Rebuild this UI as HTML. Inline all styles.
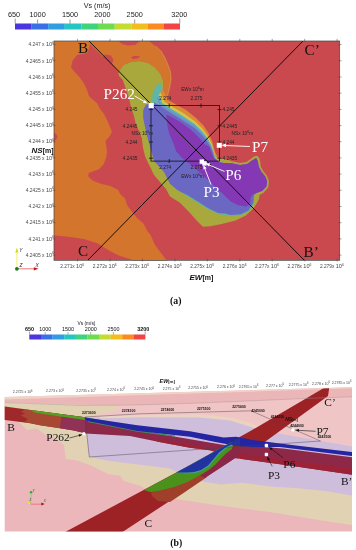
<!DOCTYPE html>
<html>
<head>
<meta charset="utf-8">
<title>Vs model figure</title>
<style>
html,body{margin:0;padding:0;background:#fff;}
body{width:356px;height:550px;overflow:hidden;position:relative;font-family:"Liberation Sans",sans-serif;}
svg{position:absolute;left:0;top:0;display:block;}
.t{font-family:"Liberation Sans",sans-serif;}
.s{font-family:"Liberation Serif",serif;}
</style>
</head>
<body>
<svg width="356" height="550" viewBox="0 0 356 550">
<defs>
<clipPath id="cpa"><rect x="54" y="41" width="285.700" height="219.400"/></clipPath>
<filter id="bl" x="-5%" y="-5%" width="110%" height="110%"><feGaussianBlur stdDeviation="0.6"/></filter>
</defs>

<!-- ============ colour bar (a) ============ -->
<g id="cbar-a">
<rect x="15" y="23.5" width="16.6" height="6" fill="#4a35e0"/>
<rect x="31.5" y="23.5" width="16.8" height="6" fill="#3a6fe8"/>
<rect x="48.2" y="23.5" width="16.6" height="6" fill="#2f9de2"/>
<rect x="64.7" y="23.5" width="16.8" height="6" fill="#24c6c2"/>
<rect x="81.4" y="23.5" width="16.7" height="6" fill="#3fd37e"/>
<rect x="98" y="23.5" width="16.8" height="6" fill="#6fdc50"/>
<rect x="114.7" y="23.5" width="17" height="6" fill="#c4dc30"/>
<rect x="131.6" y="23.5" width="16.2" height="6" fill="#f2be1c"/>
<rect x="147.7" y="23.5" width="16.4" height="6" fill="#fb8b20"/>
<rect x="164" y="23.5" width="16" height="6" fill="#f24444"/>
<g stroke="#555" stroke-width="0.6">
<line x1="15.2" y1="18.5" x2="15.2" y2="23.5"/>
<line x1="37.6" y1="19.5" x2="37.6" y2="23.5"/>
<line x1="70" y1="19.5" x2="70" y2="23.5"/>
<line x1="102.4" y1="19.5" x2="102.4" y2="23.5"/>
<line x1="134.7" y1="19.5" x2="134.7" y2="23.5"/>
<line x1="179.8" y1="18.5" x2="179.8" y2="23.5"/>
</g>
<g class="t" font-size="7.3" text-anchor="middle" fill="#1c1c1c">
<text x="14" y="16.6">650</text>
<text x="37.6" y="16.6">1000</text>
<text x="70" y="16.6">1500</text>
<text x="102.4" y="16.6">2000</text>
<text x="134.7" y="16.6">2500</text>
<text x="179.3" y="16.6">3200</text>
<text x="97" y="8.2" font-size="7.2">Vs (m/s)</text>
</g>
</g>

<!-- ============ panel (a) map ============ -->
<g id="map-a" clip-path="url(#cpa)">
<rect x="54" y="40" width="286" height="220" fill="#ca494f"/>
<g filter="url(#bl)">
<!-- orange: left region + top band + lobe -->
<path fill="#d4742f" d="M50,36 L118,36 L118.500,41 L122,44 L128,45.500 L135,45 L139,42 L140,36 L148,36 L149,41 L155,46 L160.500,51.700 L164,58.500 L167,65 L169.500,72 L170,78.700 L168.400,87.700 L166.500,96 L166,101 L162.500,99 L161.700,92 L163,87.700 L163,81 L160.500,74 L155,67.500 L148,63 L139,61 L130,62.300 L123.500,65 L120,70 L118,72 L112,64 L113.500,60 L111,55.500 L105,54.500 L103,57 L98,52 L93,47 L90,44 L89,49 L87,53 L82,54 L77,55 L72.500,60.700 L71,67.500 L74.700,72 L79,76.500 L83.700,83 L87,90 L89,96 L92,99 L97,103 L100,109 L104,114 L107,120 L110,127 L112,132 L109,137 L105.500,141 L106.500,147 L107,152 L106,158 L103.700,164 L99,169.300 L92.500,171.600 L89,172.700 L88,176 L92.500,180.500 L101.500,184 L110.400,186 L118.300,190 L120,194 L125,198.400 L127,205 L132,212 L137,218 L143.700,223.700 L147,230.500 L150.500,235 L155,245 L161,253 L167,261 L133,261 L131.500,259.500 L120,256 L109,250.500 L98,243.500 L84,239 L67,236.500 L50,235 Z"/>
<path fill="#ca494f" d="M53,132.500 Q57.500,134 57.300,137 Q57,140 53,141.500 Z"/>
<!-- small red blob inside orange lobe -->
<path fill="#ca494f" d="M131,57.500 Q135,54.500 140,56.500 Q138,59 133,59 Z"/>
<!-- light orange fringe outside lobe -->
<path fill="#d9843c" d="M156,46 L161.500,51 L165.500,58 L168.500,65 L171,72 L171.500,79 L170,88 L168,96 L167.500,102 L166,101 L166.500,96 L168.400,87.700 L170,78.700 L169.500,72 L167,65 L164,58.500 L160.500,51.700 L155,46 Z"/>
<!-- olive region (full outer boundary) -->
<path fill="#a9a83c" d="M120,70 L123.500,65 L130,62.300 L139,61 L148,63 L155,67.500 L160.500,74 L163,81 L163,87.700 L161.700,92 L160.500,96 L166,100 L180,108 L195,120 L208,134 L213,148 L218,158 L227,159.500 L232,161.200 L240.200,163 L246.500,162 L251,158.800 L254,156.500 L257,155.800 L259.300,158 L260.200,162 L260.700,166.500 L263,170.800 L267,175.700 L269,181.500 L268.200,187.500 L263.500,192.700 L259.500,195 L259,199 L257.200,202.500 L253.400,208.500 L245.800,215.600 L235.700,220.500 L220.500,224.300 L210,226.300 L203,226.800 L197.800,221.800 L190,213 L180,202.800 L170,196.500 L166,189 L154,175 L148.700,164 L145.300,157 L143,148 L142,139 L139.700,132 L136,125 L134,116 L131,107 L129,98 L126,89 L122.800,80 L119,76 L118.500,73 Z"/>
<!-- teal/cyan fringe (north tip) -->
<path fill="#5fb6a6" d="M151.500,102 L153,92 L156,86 L160,83 L163,89 L164,96 L166.500,103 L161,107 L154,104 Z"/>
<!-- fringe bands on NE side of blue -->
<path fill="#dc8a34" d="M162.5,89.0 L168.0,100.0 L176.0,104.5 L186.0,110.0 L196.0,118.0 L203.5,125.5 L208.5,133.0 L212.4,141.5 L214.3,149.5 L216.0,156.5 L220.0,160.8 L226.5,162.8 L226.0,164.0 L219.0,162.0 L214.5,158.0 L212.6,151.5 L210.0,146.0 L205.8,139.6 L201.0,134.0 L194.0,127.5 L180.6,119.0 L167.0,110.5 L159.0,104.5 L157.0,98.0 Z"/>
<path fill="#d4c44a" d="M160.4,92.4 L164.6,101.7 L172.6,106.8 L183.9,113.4 L195.2,121.6 L202.6,128.7 L207.5,135.5 L211.5,143.2 L213.7,150.3 L215.4,157.1 L219.6,161.3 L226.3,163.3 L226.0,164.0 L219.0,162.0 L214.5,158.0 L212.6,151.5 L210.0,146.0 L205.8,139.6 L201.0,134.0 L194.0,127.5 L180.6,119.0 L167.0,110.5 L159.0,104.5 L157.0,98.0 Z"/>
<path fill="#5eaebc" d="M159.0,94.8 L162.2,102.9 L170.2,108.3 L182.5,115.8 L194.7,124.1 L201.9,130.9 L206.8,137.2 L210.9,144.4 L213.2,150.8 L215.0,157.5 L219.4,161.6 L226.2,163.6 L226.0,164.0 L219.0,162.0 L214.5,158.0 L212.6,151.5 L210.0,146.0 L205.8,139.6 L201.0,134.0 L194.0,127.5 L180.6,119.0 L167.0,110.5 L159.0,104.5 L157.0,98.0 Z"/>
<path fill="#6d90d0" d="M158.0,96.4 L160.6,103.7 L168.6,109.4 L181.6,117.4 L194.4,125.8 L201.4,132.5 L206.3,138.4 L210.4,145.2 L212.9,151.1 L214.8,157.7 L219.2,161.8 L226.1,163.8 L226.0,164.0 L219.0,162.0 L214.5,158.0 L212.6,151.5 L210.0,146.0 L205.8,139.6 L201.0,134.0 L194.0,127.5 L180.6,119.0 L167.0,110.5 L159.0,104.5 L157.0,98.0 Z"/>
<!-- thin teal between blue and olive on the south side -->
<path fill="#62b49c" d="M254.400,203.300 L249.200,211.300 L241,215.300 L230.700,216.200 L218,214 L207.400,209 L197.300,202.600 L187.200,196.300 L177.600,190.200 L197.800,199 L230,212 L250,205 Z"/>
<!-- blue-violet region -->
<path fill="#6a67c2" d="M150.500,103.500 L154,102.500 L159,105 L167,110.500 L180.600,119 L194,127.500 L201,134 L205.800,139.600 L210,146 L212.600,151.500 L214.500,158 L219,162 L226,164 L231.700,163.200 L240.200,164.900 L247,164 L252,160.600 L256.200,158.100 L257.900,161.500 L258.700,166.500 L261.300,171.600 L265.500,176.700 L267.200,181.700 L266.300,186.800 L262,191 L257,192.700 L254,195 L253.400,202.800 L248.400,210.400 L240.800,214.200 L230.700,215 L225,213.500 L218,212.900 L207.900,207.900 L197.800,201.500 L187.700,195.200 L177.600,190.200 L170,183.800 L164,172 L154,161 L151,150 L147,136 L145,127 L143.200,118 L143.200,110 L146,104.500 Z"/>
<!-- purple region -->
<path fill="#8439b3" d="M166.500,114.500 L173.500,118 L182.500,123.500 L191.500,130.200 L199.500,138 L204.500,144 L209.500,147 L211.500,153 L214,158.300 L218.800,162.300 L225,163 L231.700,163.200 L240.200,164.900 L247,164 L252,160.600 L256.200,158.100 L257.900,161.500 L258.700,166.500 L261.300,171.600 L265.500,176.700 L267.200,181.700 L266.300,186.800 L262,191 L257,192.700 L252.800,194.400 L250.300,197.700 L250.300,202 L248.600,205.300 L245.800,206.600 L238.300,205.300 L230.700,201.500 L223,194 L213,185 L202.900,175 L198,171 L190,164 L182,158 L176,151 L173.700,144 L170,135.700 L168,129 L167,122 Z"/>
</g>

<!-- section lines -->
<g stroke="#0a0a0a" stroke-width="0.95" fill="none">
<line x1="88" y1="40" x2="304" y2="260"/>
<line x1="88" y1="260" x2="304" y2="40"/>
</g>
</g>

<!-- y axis tick labels -->
<g class="t" font-size="4.9" text-anchor="end" fill="#484848">
<text x="54" y="46.3">4.247 x <tspan font-size="5.6">10</tspan><tspan dy="-2.6" font-size="3.4">6</tspan></text>
<text x="54" y="62.5">4.2465 x <tspan font-size="5.6">10</tspan><tspan dy="-2.6" font-size="3.4">6</tspan></text>
<text x="54" y="78.7">4.246 x <tspan font-size="5.6">10</tspan><tspan dy="-2.6" font-size="3.4">6</tspan></text>
<text x="54" y="94.9">4.2455 x <tspan font-size="5.6">10</tspan><tspan dy="-2.6" font-size="3.4">6</tspan></text>
<text x="54" y="111.1">4.245 x <tspan font-size="5.6">10</tspan><tspan dy="-2.6" font-size="3.4">6</tspan></text>
<text x="54" y="127.3">4.2445 x <tspan font-size="5.6">10</tspan><tspan dy="-2.6" font-size="3.4">6</tspan></text>
<text x="54" y="143.4">4.244 x <tspan font-size="5.6">10</tspan><tspan dy="-2.6" font-size="3.4">6</tspan></text>
<text x="54" y="159.6">4.2435 x <tspan font-size="5.6">10</tspan><tspan dy="-2.6" font-size="3.4">6</tspan></text>
<text x="54" y="175.8">4.243 x <tspan font-size="5.6">10</tspan><tspan dy="-2.6" font-size="3.4">6</tspan></text>
<text x="54" y="192.0">4.2425 x <tspan font-size="5.6">10</tspan><tspan dy="-2.6" font-size="3.4">6</tspan></text>
<text x="54" y="208.2">4.242 x <tspan font-size="5.6">10</tspan><tspan dy="-2.6" font-size="3.4">6</tspan></text>
<text x="54" y="224.4">4.2415 x <tspan font-size="5.6">10</tspan><tspan dy="-2.6" font-size="3.4">6</tspan></text>
<text x="54" y="240.6">4.241 x <tspan font-size="5.6">10</tspan><tspan dy="-2.6" font-size="3.4">6</tspan></text>
<text x="54" y="256.8">4.2405 x <tspan font-size="5.6">10</tspan><tspan dy="-2.6" font-size="3.4">6</tspan></text>
</g>
<g stroke="#444" stroke-width="0.5">
<line x1="52.5" y1="44.6" x2="55.5" y2="44.6"/>
<line x1="338.5" y1="44.6" x2="341.5" y2="44.6"/>
<line x1="52.5" y1="60.8" x2="55.5" y2="60.8"/>
<line x1="338.5" y1="60.8" x2="341.5" y2="60.8"/>
<line x1="52.5" y1="77.0" x2="55.5" y2="77.0"/>
<line x1="338.5" y1="77.0" x2="341.5" y2="77.0"/>
<line x1="52.5" y1="93.2" x2="55.5" y2="93.2"/>
<line x1="338.5" y1="93.2" x2="341.5" y2="93.2"/>
<line x1="52.5" y1="109.4" x2="55.5" y2="109.4"/>
<line x1="338.5" y1="109.4" x2="341.5" y2="109.4"/>
<line x1="52.5" y1="125.6" x2="55.5" y2="125.6"/>
<line x1="338.5" y1="125.6" x2="341.5" y2="125.6"/>
<line x1="52.5" y1="141.7" x2="55.5" y2="141.7"/>
<line x1="338.5" y1="141.7" x2="341.5" y2="141.7"/>
<line x1="52.5" y1="157.9" x2="55.5" y2="157.9"/>
<line x1="338.5" y1="157.9" x2="341.5" y2="157.9"/>
<line x1="52.5" y1="174.1" x2="55.5" y2="174.1"/>
<line x1="338.5" y1="174.1" x2="341.5" y2="174.1"/>
<line x1="52.5" y1="190.3" x2="55.5" y2="190.3"/>
<line x1="338.5" y1="190.3" x2="341.5" y2="190.3"/>
<line x1="52.5" y1="206.5" x2="55.5" y2="206.5"/>
<line x1="338.5" y1="206.5" x2="341.5" y2="206.5"/>
<line x1="52.5" y1="222.7" x2="55.5" y2="222.7"/>
<line x1="338.5" y1="222.7" x2="341.5" y2="222.7"/>
<line x1="52.5" y1="238.9" x2="55.5" y2="238.9"/>
<line x1="338.5" y1="238.9" x2="341.5" y2="238.9"/>
<line x1="52.5" y1="255.1" x2="55.5" y2="255.1"/>
<line x1="338.5" y1="255.1" x2="341.5" y2="255.1"/>
</g>
<!-- x axis tick labels -->
<g class="t" font-size="4.8" text-anchor="middle" fill="#484848">
<text x="72.3" y="268.1">2.271x <tspan font-size="5.6">10</tspan><tspan dy="-2.6" font-size="3.4">6</tspan></text>
<text x="104.8" y="268.1">2.272x <tspan font-size="5.6">10</tspan><tspan dy="-2.6" font-size="3.4">6</tspan></text>
<text x="137.2" y="268.1">2.273x <tspan font-size="5.6">10</tspan><tspan dy="-2.6" font-size="3.4">6</tspan></text>
<text x="169.7" y="268.1">2.274x <tspan font-size="5.6">10</tspan><tspan dy="-2.6" font-size="3.4">6</tspan></text>
<text x="202.1" y="268.1">2.275x <tspan font-size="5.6">10</tspan><tspan dy="-2.6" font-size="3.4">6</tspan></text>
<text x="234.6" y="268.1">2.276x <tspan font-size="5.6">10</tspan><tspan dy="-2.6" font-size="3.4">6</tspan></text>
<text x="267.0" y="268.1">2.277x <tspan font-size="5.6">10</tspan><tspan dy="-2.6" font-size="3.4">6</tspan></text>
<text x="299.5" y="268.1">2.278x <tspan font-size="5.6">10</tspan><tspan dy="-2.6" font-size="3.4">6</tspan></text>
<text x="331.9" y="268.1">2.279x <tspan font-size="5.6">10</tspan><tspan dy="-2.6" font-size="3.4">6</tspan></text>
</g>
<g stroke="#444" stroke-width="0.5">
<line x1="77.5" y1="258.5" x2="77.5" y2="261.5"/>
<line x1="77.5" y1="38.8" x2="77.5" y2="41.5"/>
<line x1="110.0" y1="258.5" x2="110.0" y2="261.5"/>
<line x1="110.0" y1="38.8" x2="110.0" y2="41.5"/>
<line x1="142.4" y1="258.5" x2="142.4" y2="261.5"/>
<line x1="142.4" y1="38.8" x2="142.4" y2="41.5"/>
<line x1="174.9" y1="258.5" x2="174.9" y2="261.5"/>
<line x1="174.9" y1="38.8" x2="174.9" y2="41.5"/>
<line x1="207.3" y1="258.5" x2="207.3" y2="261.5"/>
<line x1="207.3" y1="38.8" x2="207.3" y2="41.5"/>
<line x1="239.8" y1="258.5" x2="239.8" y2="261.5"/>
<line x1="239.8" y1="38.8" x2="239.8" y2="41.5"/>
<line x1="272.2" y1="258.5" x2="272.2" y2="261.5"/>
<line x1="272.2" y1="38.8" x2="272.2" y2="41.5"/>
<line x1="304.7" y1="258.5" x2="304.7" y2="261.5"/>
<line x1="304.7" y1="38.8" x2="304.7" y2="41.5"/>
<line x1="337.1" y1="258.5" x2="337.1" y2="261.5"/>
<line x1="337.1" y1="38.8" x2="337.1" y2="41.5"/>
</g>
<text class="t" x="31.5" y="153.300" font-size="8" font-weight="bold" fill="#111"><tspan font-style="italic">NS</tspan><tspan font-size="7">[m]</tspan></text>
<text class="t" x="189.500" y="279.600" font-size="8" font-weight="bold" fill="#111"><tspan font-style="italic">EW</tspan><tspan font-size="7">[m]</tspan></text>
<text class="s" x="170" y="304.300" font-size="9.800" font-weight="bold" fill="#111">(a)</text>

<!-- inner rectangle with ticks -->
<g stroke="#111" stroke-width="0.8" fill="none">
<rect x="151" y="105.400" width="68.500" height="55.700"/>
<path d="M169.200,103.500 V107.500 M201,103.500 V107.500 M169.200,159 V163 M201,159 V163"/>
<path d="M149,109.600 H153 M149,125.800 H153 M149,142 H153 M149,158.200 H153"/>
<path d="M217.500,109.600 H221.500 M217.500,125.800 H221.500 M217.500,142 H221.500 M217.500,158.200 H221.500"/>
</g>
<g class="t" font-size="4.8" fill="#222">
<text x="165.300" y="100.400" text-anchor="middle">2.274</text>
<text x="196.400" y="100.400" text-anchor="middle">2.275</text>
<text x="165.300" y="169.300" text-anchor="middle">2.274</text>
<text x="196.400" y="169.300" text-anchor="middle">2.275</text>
<text x="192.500" y="91.400" text-anchor="middle">EWx 10<tspan dy="-2" font-size="3.4">6</tspan><tspan dy="2">m</tspan></text>
<text x="192.500" y="178.400" text-anchor="middle">EWx 10<tspan dy="-2" font-size="3.4">6</tspan><tspan dy="2">m</tspan></text>
<text x="137.500" y="111.300" text-anchor="end">4.245</text>
<text x="137.500" y="127.500" text-anchor="end">4.2445</text>
<text x="137.500" y="143.700" text-anchor="end">4.244</text>
<text x="137.500" y="159.900" text-anchor="end">4.2435</text>
<text x="222.500" y="111.300">4.245</text>
<text x="222.500" y="127.500">4.2445</text>
<text x="222.500" y="143.700">4.244</text>
<text x="222.500" y="159.900">4.2435</text>
<text x="131.500" y="135.200">NSx 10<tspan dy="-2" font-size="3.4">6</tspan><tspan dy="2">m</tspan></text>
<text x="231.500" y="135.200">NSx 10<tspan dy="-2" font-size="3.4">6</tspan><tspan dy="2">m</tspan></text>
</g>
<!-- markers + arrows -->
<g fill="#fff" stroke="none">
<rect x="148.600" y="102.900" width="5.200" height="5.200"/>
<rect x="216.800" y="142.800" width="5" height="5"/>
<rect x="199.600" y="159.400" width="4.400" height="4.400"/>
<rect x="202.300" y="161.200" width="4.400" height="4.400"/>
</g>
<g stroke="#fff" stroke-width="0.9" fill="#fff">
<line x1="134.500" y1="95.800" x2="145" y2="102"/>
<path d="M147.500,103.500 L143,102.800 L144.600,100 Z" stroke="none"/>
<line x1="250" y1="146.500" x2="225" y2="145.500"/>
<path d="M221.500,145.300 L226,143.600 L226,147.300 Z" stroke="none"/>
<line x1="224.500" y1="171.500" x2="208" y2="164.500"/>
<path d="M205.500,163.300 L210.200,163.300 L208.800,166.500 Z" stroke="none"/>
<line x1="211" y1="184.500" x2="204.500" y2="168"/>
<path d="M203.300,165 L206.700,168.200 L203.500,169.500 Z" stroke="none"/>
</g>
<g class="s" font-size="15.200" fill="#fff">
<text x="103.600" y="99.300">P262</text>
<text x="252" y="152.300">P7</text>
<text x="225.200" y="179.800">P6</text>
<text x="203.600" y="196.600">P3</text>
</g>
<g class="s" font-size="15.200" fill="#111">
<text x="78" y="53">B</text>
<text x="78" y="256.300">C</text>
<text x="304.500" y="54.800">C&#8217;</text>
<text x="303.500" y="257">B&#8217;</text>
</g>
<!-- orientation triad (a) -->
<g>
<line x1="16.900" y1="268.500" x2="16.900" y2="251" stroke="#eeee60" stroke-width="0.9"/>
<path d="M16.900,247.500 L15.300,252.500 L18.500,252.500 Z" fill="#d8d820"/>
<line x1="16.900" y1="268.800" x2="35" y2="268.800" stroke="#e86a6a" stroke-width="0.9"/>
<path d="M38.500,268.800 L33.800,267.200 L33.800,270.400 Z" fill="#c01c1c"/>
<circle cx="16.900" cy="268.800" r="1.900" fill="#1a7a2a"/>
<g class="t" font-size="4.800" font-style="italic" fill="#222">
<text x="19.200" y="251.600">Y</text>
<text x="19.400" y="267.400">Z</text>
<text x="35.500" y="267">X</text>
</g>
</g>

<!-- plot frame -->
<rect x="54" y="41" width="285.700" height="219.400" fill="none" stroke="#444" stroke-width="0.7"/>


<!-- ============ colour bar (b) ============ -->
<g id="cbar-b">
<rect x="29.300" y="334.500" width="11.800" height="5" fill="#4a35e0"/>
<rect x="41" y="334.500" width="11.700" height="5" fill="#3a6fe8"/>
<rect x="52.600" y="334.500" width="11.700" height="5" fill="#2f9de2"/>
<rect x="64.200" y="334.500" width="11.700" height="5" fill="#24c6c2"/>
<rect x="75.800" y="334.500" width="11.700" height="5" fill="#3fd37e"/>
<rect x="87.400" y="334.500" width="11.700" height="5" fill="#6fdc50"/>
<rect x="99" y="334.500" width="11.700" height="5" fill="#c4dc30"/>
<rect x="110.600" y="334.500" width="11.700" height="5" fill="#f2be1c"/>
<rect x="122.200" y="334.500" width="11.700" height="5" fill="#fb8b20"/>
<rect x="133.800" y="334.500" width="11.600" height="5" fill="#f24444"/>
<g stroke="#555" stroke-width="0.5">
<line x1="29.500" y1="331.500" x2="29.500" y2="334.500"/>
<line x1="45.200" y1="332" x2="45.200" y2="334.500"/>
<line x1="68" y1="332" x2="68" y2="334.500"/>
<line x1="90.700" y1="332" x2="90.700" y2="334.500"/>
<line x1="113.400" y1="332" x2="113.400" y2="334.500"/>
<line x1="145.200" y1="331.500" x2="145.200" y2="334.500"/>
</g>
<g class="t" font-size="5.400" text-anchor="middle" fill="#111">
<text x="29.500" y="331" font-weight="bold">650</text>
<text x="45.200" y="331">1000</text>
<text x="68" y="331">1500</text>
<text x="90.700" y="331">2000</text>
<text x="113.400" y="331">2500</text>
<text x="143.300" y="331" font-weight="bold">3200</text>
<text x="86.500" y="325" font-size="4.800">Vs (m/s)</text>
</g>
</g>

<!-- ============ panel (b) 3D view ============ -->
<defs><clipPath id="cpb"><path d="M4.700,397 L352,387.300 L352,531.600 L4.700,531.600 Z"/></clipPath></defs>
<g id="view-b" clip-path="url(#cpb)">
<rect x="0" y="380" width="356" height="160" fill="#ebb7bb"/>
<g filter="url(#bl)">
<!-- far region (north of B band): lighter pink -->
<path fill="#f0c5c6" d="M0,402.500 L80,405.500 L133,405 L200,403 L310,398.300 L356,396.800 L356,453 L240,437 L85,417 L0,406 Z"/>
<!-- top strip above far edge line -->
<path fill="#ebb6b7" d="M0,380 L356,380 L356,396.800 L310,398.300 L200,403 L133,405 L80,405.500 L0,402.500 Z"/>
<path fill="#f1d3c6" d="M0,394 L356,384 L356,388.200 L200,393.300 L0,399.600 Z"/>
<!-- beige wedge top-left -->
<path fill="#e2d2b4" d="M0,402 L80,404.700 L117,405.500 L118,410 L100,414 L86,418 L0,406.500 Z"/>
<!-- beige: south of B band -->
<path fill="#e2d2b4" d="M18,420 L86,430 L89.300,457 L120,455 L150,451 L200,455 L260,470 L352,480 L352,525 L325,521 L270,512 L215,505 L176.500,499 L160,493.500 L147.500,490 L140.800,486 L124,481 L120,475.700 L108,474 L101,470.600 L91,465.500 L77.500,460.500 L65.700,459 L64,445 L54,437 L45.500,435 L37,428.500 L27,430 L22,425 Z"/>
<!-- lavender: basin zone on the plane -->
<path fill="#cfbedb" d="M85,418 L140,416 L200,417 L230,420 L248,425.500 L262,430.500 L276,433 L300,437.200 L352,446.500 L352,495.400 L325,491 L297.700,488.300 L270,486.600 L242.600,482.800 L220.600,484.400 L193,480 L170,468.400 L107.800,460.800 L89.300,457 Z"/>
<!-- pale yellow fringe north of basin -->
<path fill="#ecd2c0" d="M100,416.300 L140,414.800 L200,414.500 L232,417.500 L250,423 L264,428.500 L263,431 L248,426 L230,420.500 L200,417.500 L140,417.300 L100,418.600 Z"/>
</g>
</g>
<g id="slices-b" clip-path="url(#cpb)">
<!-- 1. C' upper-right part (farthest) -->
<path fill="#9c2226" d="M236,439 L250,431.300 L323,388.500 L329.200,388.200 L328,396 L262,444 L240,458 L236,458 Z"/>
<!-- 2. B-B' slice, left (far) part -->
<path fill="#a0282a" d="M0,405.800 L4.700,406.400 L40,411.300 L85,417.300 L85.500,433.200 L73.700,430.400 L56.900,427.800 L40,425.300 L30.400,423.300 L16.900,421.600 L4.700,420 L0,419.500 Z"/>
<path fill="#a74a33" d="M21,411.500 L26,409.400 L40,411.300 L62,414.300 L60,428.300 L40,425.300 L30.400,423.300 L24,422.200 L28,419 L21,415.500 L25,413.500 Z" filter="url(#bl)"/>
<path fill="#8f3054" d="M62,414.300 L85,417.300 L85.500,433.200 L73.700,430.400 L60,428.300 Z" filter="url(#bl)"/>
<path fill="#55a022" d="M31,410 L40,411.300 L85,417.300 L110,421.500 L110,423.500 L85,420 L40,413.600 L34,412.300 Z"/>
<path fill="#8e2848" d="M85,420.500 L130,429 L230,446 L240,446 L240,458.500 L236,458.200 L210,450.300 L190,447.800 L158,441.700 L130,436 L85,433.500 Z"/>
<path fill="#9c2438" d="M150,438.500 L190,444.500 L236,453 L240,453.500 L240,458.500 L236,458.200 L210,450.300 L190,447.800 L158,441.700 Z" filter="url(#bl)"/>
<path fill="#3f8f5a" d="M88,420.200 L137.400,430.200 L175,435.500 L175,436.800 L137.400,431.800 L88,422 Z"/>
<path fill="#2425a2" d="M85,417.500 L137.400,425.300 L190,431.200 L223.700,437.600 L236,436.700 L240,437.500 L240,446 L228.800,444.400 L215.300,441.900 L190,436.800 L137.400,431 L90,421.500 L85,420.500 Z"/>
<!-- 3. C lower-left part (near) -->
<path fill="#9c2226" d="M60,535 L67,531 L180,470.500 L231.700,442 L240,437.500 L240,455.500 L236,457.500 L124,531 L118,535 Z"/>
<g filter="url(#bl)">
<path fill="#a0402c" d="M150,488 L176,486.500 L198.300,476.200 L204,473 L207,477 L185,492 L170,502 L158,501 L152,496 Z"/>
<path fill="#8c2848" d="M200,475.500 L208,470.500 L215.500,464.500 L221,458.500 L226,453.500 L232,449 L240,447 L240,455.500 L236,457.500 L210,474.500 L205,478 Z"/>
<path fill="#4b921e" d="M144,490 L165,478.800 L180,470.700 L231.700,442 L233,446 L232,449 L226,453.500 L221,458.500 L215.500,464.500 L208,470.500 L198.300,476.200 L188.400,481.500 L176,486.500 L160,490.500 L150,492 Z"/>
<path fill="#3f9f86" d="M176.400,472.600 L231.700,442 L232,446 L227,448 L220,453.500 L214.500,460 L209,466.500 L202,471 L195,473.200 L187,473.600 Z"/>
<path fill="#22309e" d="M176.400,472.600 L190,465.200 L231.700,442 L240,437.500 L240,446 L234,446 L232,444.500 L226,447 L219,452.500 L213.500,459 L208,465.500 L201,470 L194,472 L187,472.500 Z"/>
</g>
<!-- 4. B' right (near) part -->
<path fill="#8e2848" d="M240,446 L246,445.500 L283,448.500 L356,457.800 L356,475.400 L296,466.500 L240,458.700 Z"/>
<path fill="#9c2438" d="M240,453.500 L296,461 L356,469 L356,475.400 L296,466.500 L240,458.700 Z" filter="url(#bl)"/>
<path fill="#2425a2" d="M240,437.400 L252.900,440 L266.400,441.800 L296,445.400 L351.600,452 L356,452.500 L356,456.500 L351.600,456 L296,449.100 L279.800,446.900 L252.900,446.900 L240,446.300 Z"/>
</g>
<!-- panel (b) annotations -->
<g class="t" font-size="3.5" text-anchor="middle" fill="#444">
<text x="22.7" y="393.4">2.2725 x 10<tspan dy="-1.6" font-size="2.6">6</tspan></text>
<text x="55" y="392.4">2.273 x 10<tspan dy="-1.6" font-size="2.6">6</tspan></text>
<text x="86" y="391.7">2.2735 x 10<tspan dy="-1.6" font-size="2.6">6</tspan></text>
<text x="116" y="390.5">2.274 x 10<tspan dy="-1.6" font-size="2.6">6</tspan></text>
<text x="144" y="390.1">2.2745 x 10<tspan dy="-1.6" font-size="2.6">6</tspan></text>
<text x="171.6" y="389.7">2.275 x 10<tspan dy="-1.6" font-size="2.6">6</tspan></text>
<text x="198" y="389.2">2.2755 x 10<tspan dy="-1.6" font-size="2.6">6</tspan></text>
<text x="226" y="388.4">2.276 x 10<tspan dy="-1.6" font-size="2.6">6</tspan></text>
<text x="248.5" y="387.7">2.2765 x 10<tspan dy="-1.6" font-size="2.6">6</tspan></text>
<text x="275" y="386.8">2.277 x 10<tspan dy="-1.6" font-size="2.6">6</tspan></text>
<text x="298.5" y="385.8">2.2775 x 10<tspan dy="-1.6" font-size="2.6">6</tspan></text>
<text x="321" y="384.6">2.278 x 10<tspan dy="-1.6" font-size="2.6">6</tspan></text>
<text x="341.5" y="383.8">2.2785 x 10<tspan dy="-1.6" font-size="2.6">6</tspan></text>
</g>
<text class="t" x="159.600" y="382.700" font-size="5.300" font-weight="bold" fill="#111"><tspan font-style="italic">EW</tspan><tspan font-size="4.400">[m]</tspan></text>
<g clip-path="url(#cpb)" fill="none" stroke="#4a4050" stroke-width="0.45">
<path d="M4.700,402.500 L80,405.500 L133,405 L200,403 L310,398.300 L352,396.800" stroke="#a8949a" stroke-width="0.4"/>
<path d="M85,417 L140,413.800 L251,410.800 L320.500,441 L89.300,457 Z"/>
</g>
<g class="t" font-size="3.500" font-weight="bold" text-anchor="middle" fill="#111">
<text x="88.800" y="414.2">2273600</text>
<text x="128.600" y="411.9">2274100</text>
<text x="167.500" y="411.1">2274600</text>
<text x="203.700" y="409.8">2275100</text>
<text x="239" y="408.1">2275600</text>
<text x="258" y="412.1">4245000</text>
<text x="277.500" y="418.2">4244500</text>
<text x="297" y="427">4244000</text>
<text x="324.500" y="438.3">4243500</text>
<text x="291.500" y="420.800" font-size="5" ><tspan font-style="italic">NS</tspan><tspan font-size="3.6">[m]</tspan></text>
</g>
<!-- markers -->
<g fill="#fff">
<rect x="82.300" y="432.300" width="3" height="3" rx="0.800"/>
<rect x="291.300" y="428.200" width="3.200" height="3.200" rx="0.800"/>
<rect x="264.700" y="443.800" width="3.400" height="3.400" rx="1"/>
<rect x="264.700" y="452.800" width="3.400" height="3.400" rx="1"/>
</g>
<!-- arrows -->
<g stroke="#111" stroke-width="0.6" fill="#111">
<line x1="69.500" y1="438" x2="80" y2="435.200"/>
<path d="M82.600,434.500 L78.600,434.200 L79.300,436.800 Z" stroke="none"/>
<line x1="315.600" y1="431.300" x2="298" y2="430.300"/>
<path d="M295.200,430.100 L299,428.900 L298.800,431.700 Z" stroke="none"/>
<line x1="283" y1="457.800" x2="271" y2="448.600"/>
<path d="M268.800,446.900 L272.800,448.100 L271,450.400 Z" stroke="none"/>
<line x1="272.200" y1="466.300" x2="268.200" y2="459"/>
<path d="M267,456.600 L270.100,459.200 L267.600,460.500 Z" stroke="none"/>
</g>
<g class="s" font-size="11.400" fill="#111">
<text x="7.200" y="431">B</text>
<text x="46.300" y="441.300">P262</text>
<text x="144.500" y="527.300">C</text>
<text x="324.300" y="405.800">C&#8217;</text>
<text x="341" y="484.500">B&#8217;</text>
<text x="316.500" y="435.300">P7</text>
<text x="283.300" y="467.500">P6</text>
<text x="268" y="479">P3</text>
</g>
<!-- orientation triad (b) -->
<g>
<line x1="30.800" y1="504" x2="31.100" y2="493.500" stroke="#7fcf6a" stroke-width="0.700"/>
<circle cx="31.100" cy="492.200" r="1.300" fill="#28b030"/>
<line x1="30.800" y1="504.200" x2="42" y2="504.200" stroke="#e86060" stroke-width="0.700"/>
<path d="M44.600,503.900 L41.400,502.500 L41.400,505.400 Z" fill="#8a1818"/>
<circle cx="28.800" cy="502.800" r="1.250" fill="#f0e020"/>
<g class="t" font-size="3" font-style="italic" fill="#333">
<text x="32.600" y="491.600">Y</text>
<text x="43.800" y="502.400">X</text>
<text x="29.600" y="501.200" font-size="2.600">Z</text>
</g>
</g>
<text class="s" x="170.300" y="545.900" font-size="9.800" font-weight="bold" fill="#111">(b)</text>
</svg>
</body>
</html>
